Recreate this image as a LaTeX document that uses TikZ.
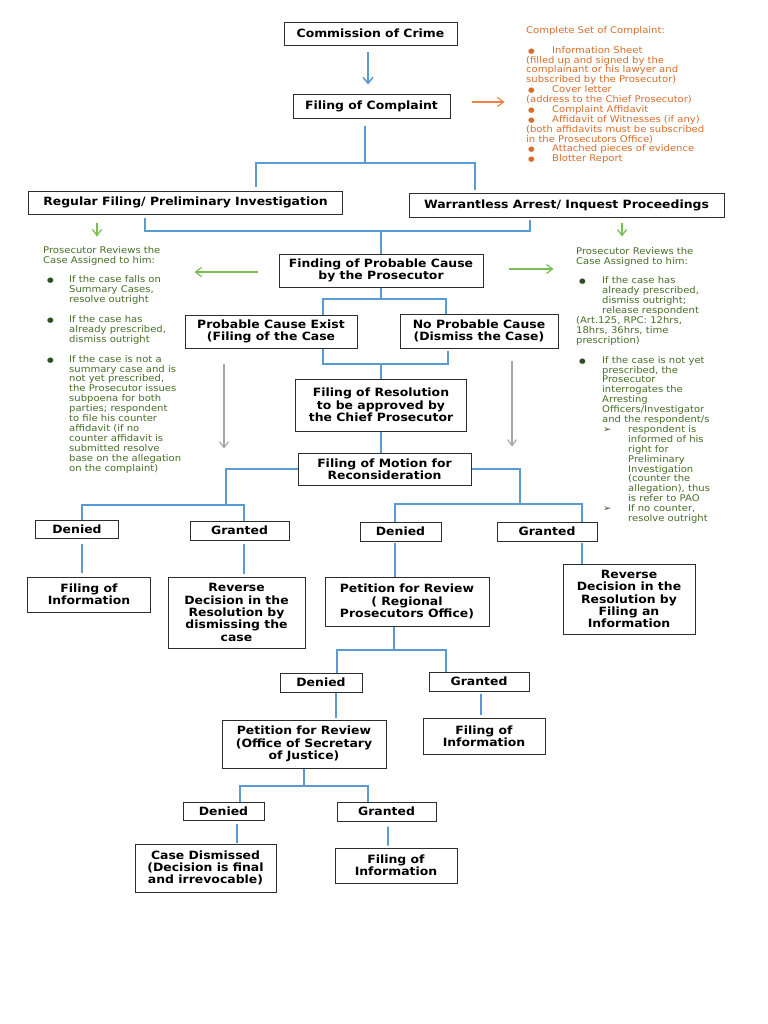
\documentclass[tikz,border=0pt]{standalone}
\usepackage{fontspec}
\usetikzlibrary{arrows.meta,calc}
\newfontfamily\vfont[FakeStretch=1.09]{DejaVu Sans}
\definecolor{lblue}{RGB}{91,155,213}
\definecolor{gtxt}{RGB}{70,110,40}
\definecolor{gbul}{RGB}{40,80,28}
\definecolor{garr}{RGB}{120,190,80}
\definecolor{otxt}{RGB}{214,110,45}
\definecolor{oarr}{RGB}{240,130,70}
\definecolor{garrow}{RGB}{165,165,165}
\definecolor{bord}{RGB}{45,45,45}
\newcommand{\bfnt}{\vfont\bfseries\fontsize{11.4bp}{12.3bp}\selectfont}
\newcommand{\smallbul}{{\fontsize{7bp}{7bp}\selectfont ●}}
\newcommand{\gbl}[1]{\hspace*{#1}\makebox[0pt][l]{\color{gbul}\smallbul}}
\newcommand{\obl}[1]{\hspace*{#1}\makebox[0pt][l]{\color{otxt}\smallbul}}
\newcommand{\arb}{\hspace*{27bp}\makebox[25bp][l]{\color{gbul}\fontsize{9bp}{9bp}\selectfont ➢}}
\begin{document}
\begin{tikzpicture}[x=1bp,y=-1bp,
  box/.style={draw=bord,line width=1bp,fill=white,align=center,inner sep=0pt,font=\bfnt},
  bl/.style={draw=lblue,line width=1.9bp},
  barrow/.style={bl,-{Straight Barb[length=6bp,width=10bp,line width=1.5bp]}},
  garw/.style={draw=garr,line width=1.2bp,-{Straight Barb[length=6bp,width=9bp]}},
  oarw/.style={draw=oarr,line width=1.2bp,-{Straight Barb[length=6bp,width=9bp]}},
  grarw/.style={draw=garrow,line width=1.1bp,-{Straight Barb[length=6bp,width=9bp]}},
  note/.style={inner sep=0pt,anchor=north west,align=left}]
\useasboundingbox[fill=white] (0,0) rectangle (768,1024);

% boxes
\node[box,minimum width=173bp,minimum height=23bp] (crime) at (370.5,33.5) {Commission of Crime};
\node[box,minimum width=157bp,minimum height=24bp] (complaint) at (371.5,106) {Filing of Complaint};
\node[box,minimum width=313bp,minimum height=23bp] (regular) at (185.5,202.5) {Regular Filing/ Preliminary Investigation};
\node[box,minimum width=315bp,minimum height=24bp] (warrantless) at (566.5,205) {Warrantless Arrest/ Inquest Proceedings};
\node[box,minimum width=204bp,minimum height=33bp] (finding) at (381,270.5) {Finding of Probable Cause\\by the Prosecutor};
\node[box,minimum width=172bp,minimum height=33bp] (exist) at (271,331.5) {Probable Cause Exist\\(Filing of the Case};
\node[box,minimum width=158bp,minimum height=34bp] (noprob) at (479,331) {No Probable Cause\\(Dismiss the Case)};
\node[box,minimum width=171bp,minimum height=52bp] (resolution) at (381,405) {Filing of Resolution\\to be approved by\\the Chief Prosecutor};
\node[box,minimum width=173bp,minimum height=32bp] (motion) at (384.5,469) {Filing of Motion for\\Reconsideration};
\node[box,minimum width=82bp,minimum height=18bp] (denied1) at (77,529) {Denied};
\node[box,minimum width=99bp,minimum height=19bp] (granted1) at (239.5,530.5) {Granted};
\node[box,minimum width=81bp,minimum height=19bp] (denied2) at (400.5,531.5) {Denied};
\node[box,minimum width=100bp,minimum height=19bp] (granted2) at (547,531.5) {Granted};
\node[box,minimum width=122bp,minimum height=35bp] (info1) at (89,594.5) {Filing of\\Information};
\node[box,minimum width=137bp,minimum height=71bp] (reverse1) at (236.5,612.5) {Reverse\\Decision in the\\Resolution by\\dismissing the\\case};
\node[box,minimum width=164bp,minimum height=49bp] (petition1) at (407,601.5) {Petition for Review\\( Regional\\Prosecutors Office)};
\node[box,minimum width=132bp,minimum height=70bp] (reverse2) at (629,599) {Reverse\\Decision in the\\Resolution by\\Filing an\\Information};
\node[box,minimum width=82bp,minimum height=19bp] (denied3) at (321,682.5) {Denied};
\node[box,minimum width=100bp,minimum height=19bp] (granted3) at (479,681.5) {Granted};
\node[box,minimum width=164bp,minimum height=48bp] (petition2) at (304,744) {Petition for Review\\(Office of Secretary\\of Justice)};
\node[box,minimum width=122bp,minimum height=36bp] (info3) at (484,736) {Filing of\\Information};
\node[box,minimum width=81bp,minimum height=18bp] (denied4) at (223.5,811) {Denied};
\node[box,minimum width=99bp,minimum height=19bp] (granted4) at (386.5,811.5) {Granted};
\node[box,minimum width=141bp,minimum height=48bp] (dismissed) at (205.5,868) {Case Dismissed\\(Decision is final\\and irrevocable)};
\node[box,minimum width=122bp,minimum height=35bp] (info4) at (396,865.5) {Filing of\\Information};

% junctions
\coordinate (t0) at (368,52);
\coordinate (t1) at (365,163);
\coordinate (t2) at (381,231);
\coordinate (t3) at (381,299);
\coordinate (t4) at (381,364);
\coordinate (t5) at (226,505);
\coordinate (t6) at (520,504);
\coordinate (t7) at (394,650);
\coordinate (t8) at (304,786);

% blue connectors
\draw[barrow,shorten >=9bp] (t0) -- (t0 |- complaint.north);
\draw[bl] ($(complaint.south)+(-6.5,7)$) -- (t1);
\draw[bl] ($(regular.north)+(70.5,-4)$) |- (t1) -| ($(warrantless.north)+(-91.5,-3)$);
\draw[bl] ($(regular.south)+(-40.5,3)$) |- (t2) -| ($(warrantless.south)+(-36.5,2)$);
\draw[bl] (t2) -- (finding.north);
\draw[bl] (finding.south) -- (t3);
\draw[bl] ($(exist.north)+(52,0)$) |- (t3) -| ($(noprob.north)+(-33,0)$);
\draw[bl] ($(exist.south)+(52,0)$) |- (t4) -| ($(noprob.south)+(-31,2)$);
\draw[bl] (t4) -- (resolution.north);
\draw[bl] (resolution.south) -- (resolution.south |- motion.north);
\draw[bl] (motion.west) -| (t5);
\draw[bl] ($(denied1.north)+(5,0)$) |- (t5) -| ($(granted1.north)+(4.5,0)$);
\draw[bl] (motion.east) -| (t6);
\draw[bl] ($(denied2.north)+(-5.5,0)$) |- (t6) -| ($(granted2.north)+(35,0)$);
\draw[bl] ($(denied1.south)+(5,5)$) -- ($(info1.north)+(-7,-4)$);
\draw[bl] ($(granted1.south)+(4.5,3)$) -- ($(reverse1.north)+(7.5,-3)$);
\draw[bl] ($(denied2.south)+(-5.5,1)$) -- ($(petition1.north)+(-12,0)$);
\draw[bl] ($(granted2.south)+(35,1)$) -- ($(reverse2.north)+(-47,0)$);
\draw[bl] ($(petition1.south)+(-13,0)$) -- (t7);
\draw[bl] ($(denied3.north)+(16,0)$) |- (t7) -| ($(granted3.north)+(-33,0)$);
\draw[bl] ($(denied3.south)+(15,0)$) -- ($(petition2.north)+(32,-2)$);
\draw[bl] ($(granted3.south)+(2,2)$) -- ($(info3.north)+(-3,-3)$);
\draw[bl] (petition2.south) -- (t8);
\draw[bl] ($(denied4.north)+(16.5,0)$) |- (t8) -| ($(granted4.north)+(-18.5,0)$);
\draw[bl] ($(denied4.south)+(13.5,3)$) -- ($(dismissed.north)+(31.5,-1)$);
\draw[bl] ($(granted4.south)+(1.5,5)$) -- ($(info4.north)+(-8,-2)$);

% other arrows
\draw[oarw] ($(complaint.east)+(21,-4)$) -- ($(complaint.east)+(54,-4)$);
\draw[garw] ($(regular.south)+(-88.5,8)$) -- ($(regular.south)+(-88.5,22)$);
\draw[garw] ($(warrantless.south)+(55.5,5)$) -- ($(warrantless.south)+(55.5,19)$);
\draw[garw] ($(finding.west)+(-21,1.5)$) -- ($(finding.west)+(-84,1.5)$);
\draw[garw] ($(finding.east)+(25,-1.5)$) -- ($(finding.east)+(70,-1.5)$);
\draw[grarw] ($(exist.south)+(-47,15)$) -- ($(exist.south)+(-47,100)$);
\draw[grarw] ($(noprob.south)+(33,12)$) -- ($(noprob.south)+(33,98)$);

% orange note
\node[note,font={\vfont\fontsize{9.2bp}{9.87bp}\selectfont},text=otxt] (orangenote) at (526,25.3) {%
\rule{0pt}{8bp}Complete Set of Complaint:\\[9.87bp]%
\obl{2bp}\hspace*{24bp}Information Sheet\\%
(filled up and signed by the\\%
complainant or his lawyer and\\%
subscribed by the Prosecutor)\\%
\obl{2bp}\hspace*{24bp}Cover letter\\%
(address to the Chief Prosecutor)\\%
\obl{2bp}\hspace*{24bp}Complaint Affidavit\\%
\obl{2bp}\hspace*{24bp}Affidavit of Witnesses (if any)\\%
(both affidavits must be subscribed\\%
in the Prosecutors Office)\\%
\obl{2bp}\hspace*{24bp}Attached pieces of evidence\\%
\obl{2bp}\hspace*{24bp}Blotter Report};

% left green note
\node[note,font={\vfont\fontsize{9.2bp}{9.9bp}\selectfont},text=gtxt] (leftnote) at (43,245) {%
\rule{0pt}{8bp}Prosecutor Reviews the\\%
Case Assigned to him:\\[9.9bp]%
\gbl{4bp}\hspace*{22bp}If the case falls on\\%
\hspace*{26bp}Summary Cases,\\%
\hspace*{26bp}resolve outright\\[9.9bp]%
\gbl{4bp}\hspace*{22bp}If the case has\\%
\hspace*{26bp}already prescribed,\\%
\hspace*{26bp}dismiss outright\\[9.9bp]%
\gbl{4bp}\hspace*{22bp}If the case is not a\\%
\hspace*{26bp}summary case and is\\%
\hspace*{26bp}not yet prescribed,\\%
\hspace*{26bp}the Prosecutor issues\\%
\hspace*{26bp}subpoena for both\\%
\hspace*{26bp}parties; respondent\\%
\hspace*{26bp}to file his counter\\%
\hspace*{26bp}affidavit (if no\\%
\hspace*{26bp}counter affidavit is\\%
\hspace*{26bp}submitted resolve\\%
\hspace*{26bp}base on the allegation\\%
\hspace*{26bp}on the complaint)};

% right green note
\node[note,font={\vfont\fontsize{9.2bp}{9.9bp}\selectfont},text=gtxt] (rightnote) at (576,246) {%
\rule{0pt}{8bp}Prosecutor Reviews the\\%
Case Assigned to him:\\[9.9bp]%
\gbl{3bp}\hspace*{23bp}If the case has\\%
\hspace*{26bp}already prescribed,\\%
\hspace*{26bp}dismiss outright;\\%
\hspace*{26bp}release respondent\\%
(Art.125, RPC: 12hrs,\\%
18hrs, 36hrs, time\\%
prescription)\\[9.9bp]%
\gbl{3bp}\hspace*{23bp}If the case is not yet\\%
\hspace*{26bp}prescribed, the\\%
\hspace*{26bp}Prosecutor\\%
\hspace*{26bp}interrogates the\\%
\hspace*{26bp}Arresting\\%
\hspace*{26bp}Officers/Investigator\\%
\hspace*{26bp}and the respondent/s\\%
\arb respondent is\\%
\hspace*{52bp}informed of his\\%
\hspace*{52bp}right for\\%
\hspace*{52bp}Preliminary\\%
\hspace*{52bp}Investigation\\%
\hspace*{52bp}(counter the\\%
\hspace*{52bp}allegation), thus\\%
\hspace*{52bp}is refer to PAO\\%
\arb If no counter,\\%
\hspace*{52bp}resolve outright};
\end{tikzpicture}
\end{document}
